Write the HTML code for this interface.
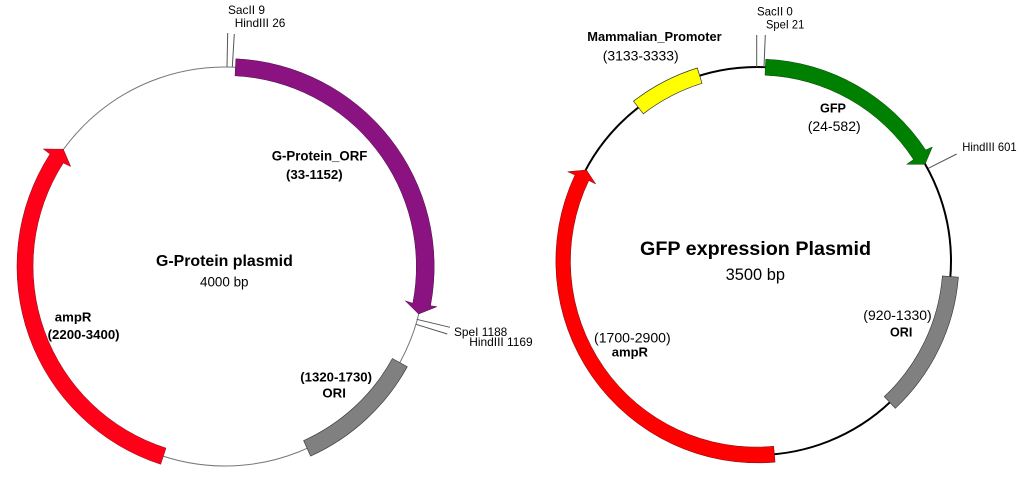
<!DOCTYPE html>
<html>
<head>
<meta charset="utf-8">
<style>
html,body{margin:0;padding:0;background:#fff;width:1024px;height:479px;overflow:hidden}
svg{display:block;filter:blur(.3px)}
text{font-family:"Liberation Sans",sans-serif;fill:#000}
.s{font-size:11.9px}
.b{font-size:13.2px;font-weight:bold}
.r{font-size:14px}
</style>
</head>
<body>
<svg width="1024" height="479" viewBox="0 0 1024 479" xmlns="http://www.w3.org/2000/svg">
<rect width="1024" height="479" fill="#fff"/>

<!-- Left plasmid -->
<circle cx="225" cy="266.5" r="199.5" fill="none" stroke="#777" stroke-width="1"/>
<g stroke="#555" stroke-width="1" fill="none">
  <line x1="227.7" y1="33" x2="227" y2="67"/>
  <line x1="234.3" y1="34" x2="232.3" y2="67"/>
  <line x1="416.7" y1="319.3" x2="450" y2="327.3"/>
  <line x1="416" y1="324.3" x2="447.3" y2="334"/>
</g>
<path d="M235.9,58.8 A208,208 0 0 1 430.5,305.7 L436.9,306.7 L418.6,314 L405.2,300.8 L412.8,303.3 A191,191 0 0 0 235,75.8 Z" fill="#8b1281" stroke="#4a1045" stroke-width=".5"/>
<path d="M160.7,464.3 A208,208 0 0 1 50,154 L43.3,149 L63.3,149.2 L70.7,166.5 L63.3,163 A191,191 0 0 0 166,448.1 Z" fill="#ff0018" stroke="#80101a" stroke-width=".5"/>
<path d="M407.3,366.7 A208,208 0 0 1 310.6,456.1 L303.6,440.6 A191,191 0 0 0 392.4,358.5 Z" fill="#808080" stroke="#333" stroke-width=".6"/>

<text class="s" x="228" y="14" textLength="37" lengthAdjust="spacingAndGlyphs">SacII 9</text>
<text class="s" x="234.7" y="27" textLength="50.7" lengthAdjust="spacingAndGlyphs">HindIII 26</text>
<text class="b" style="font-size:13.4px" x="271.7" y="160.7" textLength="95.7" lengthAdjust="spacingAndGlyphs">G-Protein_ORF</text>
<text class="b" x="286" y="179" textLength="56.7" lengthAdjust="spacingAndGlyphs">(33-1152)</text>
<text x="156" y="266" style="font-size:15.9px;font-weight:bold" textLength="136.8" lengthAdjust="spacingAndGlyphs">G-Protein plasmid</text>
<text x="200" y="286.5" style="font-size:13.4px" textLength="48.5" lengthAdjust="spacingAndGlyphs">4000 bp</text>
<text class="b" x="54.8" y="321.7" textLength="36.6" lengthAdjust="spacingAndGlyphs">ampR</text>
<text class="b" x="47.6" y="339" textLength="72" lengthAdjust="spacingAndGlyphs">(2200-3400)</text>
<text class="b" x="300.3" y="381.7" textLength="71.7" lengthAdjust="spacingAndGlyphs">(1320-1730)</text>
<text class="b" x="322.4" y="397.7" textLength="23.5" lengthAdjust="spacingAndGlyphs">ORI</text>
<text class="s" x="454" y="336" textLength="53.3" lengthAdjust="spacingAndGlyphs">SpeI 1188</text>
<text class="s" x="469.3" y="346" textLength="63.4" lengthAdjust="spacingAndGlyphs">HindIII 1169</text>

<!-- Right plasmid -->
<circle cx="757" cy="261" r="194" fill="none" stroke="#000" stroke-width="2"/>
<g stroke="#555" stroke-width="1" fill="none">
  <line x1="756.7" y1="35" x2="756.7" y2="67"/>
  <line x1="765.3" y1="35" x2="764" y2="67"/>
  <line x1="928.3" y1="168.3" x2="956.7" y2="154"/>
</g>
<path d="M765.7,59.2 A202,202 0 0 1 925.7,150 L932.3,147 L925,164.3 L906.7,164.3 L913.5,159.5 A186,186 0 0 0 765,75.2 Z" fill="#008000" stroke="#0a400a" stroke-width=".5"/>
<path d="M633.5,101.2 A202,202 0 0 1 697.3,68 L702,83.3 A186,186 0 0 0 643.3,113.8 Z" fill="#ffff00" stroke="#333" stroke-width=".7"/>
<path d="M958.4,277.2 A202,202 0 0 1 895.3,408.3 L884.3,396.6 A186,186 0 0 0 942.4,275.9 Z" fill="#808080" stroke="#333" stroke-width=".6"/>
<path d="M775.1,462.2 A202,202 0 0 1 575,175 L567.7,171.7 L586.5,170 L595.7,184 L588.8,180.5 A186,186 0 0 0 773.7,446.3 Z" fill="#ff0000" stroke="#701010" stroke-width=".5"/>

<text class="s" x="757" y="15.3" textLength="35.7" lengthAdjust="spacingAndGlyphs">SacII 0</text>
<text class="s" x="766" y="28.3" textLength="38.3" lengthAdjust="spacingAndGlyphs">SpeI 21</text>
<text class="b" style="font-size:12.8px" x="587.3" y="41" textLength="134.4" lengthAdjust="spacingAndGlyphs">Mammalian_Promoter</text>
<text class="r" x="602.7" y="60.7" textLength="76" lengthAdjust="spacingAndGlyphs">(3133-3333)</text>
<text class="b" style="font-size:12.6px" x="820" y="112.7" textLength="26" lengthAdjust="spacingAndGlyphs">GFP</text>
<text class="r" x="807.7" y="131" textLength="53" lengthAdjust="spacingAndGlyphs">(24-582)</text>
<text class="s" x="962.3" y="151" textLength="54.4" lengthAdjust="spacingAndGlyphs">HindIII 601</text>
<text x="640" y="255" style="font-size:19.7px;font-weight:bold" textLength="231" lengthAdjust="spacingAndGlyphs">GFP expression Plasmid</text>
<text x="725.7" y="280" style="font-size:16.3px" textLength="59.3" lengthAdjust="spacingAndGlyphs">3500 bp</text>
<text class="r" x="863.3" y="320" textLength="68.4" lengthAdjust="spacingAndGlyphs">(920-1330)</text>
<text class="b" style="font-size:12.6px" x="890" y="336.7" textLength="22.3" lengthAdjust="spacingAndGlyphs">ORI</text>
<text class="r" x="594" y="342.7" textLength="76.7" lengthAdjust="spacingAndGlyphs">(1700-2900)</text>
<text class="b" x="611.7" y="356.7" textLength="36.3" lengthAdjust="spacingAndGlyphs">ampR</text>
</svg>
</body>
</html>
